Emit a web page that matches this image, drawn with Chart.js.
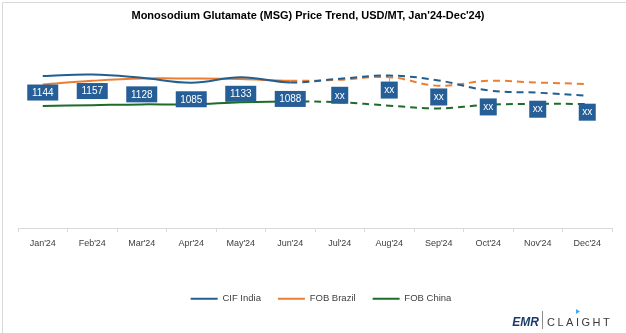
<!DOCTYPE html>
<html>
<head>
<meta charset="utf-8">
<script src="https://cdn.jsdelivr.net/npm/chart.js@4.4.0/dist/chart.umd.min.js"></script>
<style>
    html, body { margin: 0; padding: 0; background: #fff; }
    #area { width: 626px; height: 333px; }
</style>
</head>
<body>
<div id="area"><canvas id="graficoPreco" width="626" height="333"></canvas></div>
<script>
const meses = ["Jan'24", "Feb'24", "Mar'24", "Apr'24", "May'24", "Jun'24", "Jul'24", "Aug'24", "Sep'24", "Oct'24", "Nov'24", "Dec'24"];
const cifIndia = [1144, 1157, 1128, 1085, 1133, 1088, 1120, 1148, 1105, 1018, 998, 972];
const fobBrazil = [1070, 1102, 1122, 1122, 1117, 1102, 1111, 1134, 1059, 1102, 1087, 1074];
const fobChina = [882, 889, 896, 896, 914, 922, 914, 885, 861, 893, 900, 900];
const mesesReais = 6; // Jan-Jun reais, o resto e previsao
const rotulos = cifIndia.map((v, i) => (i < mesesReais ? String(v) : "xx"));

const FONTE = "'Liberation Sans', Arial, sans-serif";

// tracejado a partir do ultimo mes real
const tracejado = (ctx) => (ctx.p0DataIndex >= mesesReais - 1 ? [7, 5] : undefined);

function serie(nome, valores, cor) {
    return {
        label: nome,
        data: valores,
        borderColor: cor,
        backgroundColor: cor,
        borderWidth: 2,
        pointRadius: 0,
        tension: 0.4,
        fill: false,
        segment: { borderDash: tracejado },
    };
}

// caixas com o valor embaixo da linha CIF India
const rotulosCif = {
    id: "rotulosCif",
    afterDatasetsDraw(chart) {
        const ctx = chart.ctx;
        const meta = chart.getDatasetMeta(0);
        ctx.save();
        ctx.font = `10px ${FONTE}`;
        ctx.textAlign = "center";
        ctx.textBaseline = "middle";
        meta.data.forEach((ponto, i) => {
            const texto = rotulos[i];
            const previsao = texto === "xx";
            const w = previsao ? 17 : Math.round(ctx.measureText(texto).width) + 9;
            const h = previsao ? 17 : 16;
            const desloc = i === 7 ? 14.5 : 16.5;
            const cx = ponto.x;
            const cy = ponto.y + desloc;
            if (i === 7) {
                ctx.strokeStyle = "#a6a6a6";
                ctx.lineWidth = 1;
                ctx.beginPath();
                ctx.moveTo(Math.round(cx) + 0.5, cy - h / 2);
                ctx.lineTo(Math.round(cx) + 0.5, ponto.y + 1);
                ctx.stroke();
            }
            ctx.fillStyle = "#265e97";
            ctx.fillRect(cx - w / 2, cy - h / 2, w, h);
            ctx.fillStyle = "#ffffff";
            ctx.fillText(texto, cx, cy + 0.5);
        });
        ctx.restore();
    },
};

// moldura e logotipo
const moldura = {
    id: "moldura",
    afterLayout(chart) {
        chart.legend.left += 6;
        chart.legend.right += 6;
        chart.titleBlock.left -= 7;
        chart.titleBlock.right -= 7;
    },
    afterDraw(chart) {
        const ctx = chart.ctx;
        ctx.save();
        ctx.strokeStyle = "#d9d9d9";
        ctx.lineWidth = 1;
        ctx.beginPath();
        ctx.moveTo(2.5, 333);
        ctx.lineTo(2.5, 2.5);
        ctx.lineTo(626, 2.5);
        ctx.stroke();

        ctx.textBaseline = "alphabetic";
        ctx.textAlign = "right";
        ctx.fillStyle = "#1c3b6b";
        ctx.font = "italic bold 12px 'Liberation Sans', Arial, sans-serif";
        ctx.fillText("EMR", 539, 326);

        ctx.strokeStyle = "#8c8c8c";
        ctx.beginPath();
        ctx.moveTo(542.5, 311);
        ctx.lineTo(542.5, 329);
        ctx.stroke();

        ctx.textAlign = "left";
        ctx.fillStyle = "#3a3a3a";
        ctx.font = "11px 'Liberation Sans', Arial, sans-serif";
        ctx.letterSpacing = "2.5px";
        ctx.fillText("CLAIGHT", 547, 326);

        ctx.fillStyle = "#3fa9f5";
        ctx.beginPath();
        ctx.moveTo(576, 309);
        ctx.lineTo(580, 311.5);
        ctx.lineTo(576, 314);
        ctx.closePath();
        ctx.fill();
        ctx.restore();
    },
};

const ctxPreco = document.getElementById("graficoPreco").getContext("2d");
new Chart(ctxPreco, {
    type: "line",
    data: {
        labels: meses,
        datasets: [
            serie("CIF India", cifIndia, "#235f8e"),
            serie("FOB Brazil", fobBrazil, "#ed7d31"),
            serie("FOB China", fobChina, "#1f6b2a"),
        ],
    },
    options: {
        responsive: false,
        animation: false,
        layout: { padding: { left: 18, right: 14, top: 0, bottom: 19.5 } },
        plugins: {
            title: {
                display: true,
                text: "Monosodium Glutamate (MSG) Price Trend, USD/MT, Jan'24-Dec'24)",
                color: "#000000",
                font: { family: FONTE, size: 11, weight: "bold" },
                padding: { top: 9.5, bottom: 17.3 },
            },
            legend: {
                position: "bottom",
                labels: {
                    usePointStyle: true,
                    pointStyle: "line",
                    pointStyleWidth: 27,
                    padding: 17,
                    color: "#404040",
                    font: { family: FONTE, size: 9.5 },
                },
            },
            tooltip: { enabled: false },
        },
        scales: {
            x: {
                offset: true,
                grid: { offset: true, drawOnChartArea: false, color: "#d9d9d9", tickLength: 4 },
                border: { color: "#d9d9d9" },
                ticks: { color: "#404040", font: { family: FONTE, size: 9 }, padding: 6, maxRotation: 0, autoSkip: false },
                afterFit: (escala) => {
                    escala.height = 49;
                },
            },
            y: { display: false, min: -185, max: 1459 },
        },
    },
    plugins: [rotulosCif, moldura],
});
</script>
</body>
</html>
